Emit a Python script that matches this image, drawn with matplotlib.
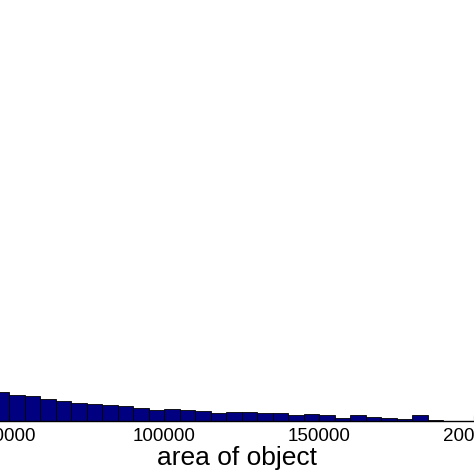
import matplotlib
matplotlib.use("Agg")
import matplotlib.pyplot as plt
import numpy as np

plt.rcParams['font.family'] = ['Liberation Sans', 'DejaVu Sans']

bin_edges_start = 45000
bin_width = 5000
counts = [287, 260, 247, 223, 200, 180, 170, 160, 147, 133, 113, 120, 107, 97, 83,
          87, 93, 80, 77, 60, 67, 57, 33, 60, 37, 27, 20, 60, 7]
lefts = [bin_edges_start + i * bin_width for i in range(len(counts))]
xticks = [50000, 100000, 150000, 200000]

fig = plt.figure(figsize=(4.74, 4.74), dpi=100)
ax = fig.add_axes([0, 53/474, 1, 1.0])
ax.bar(lefts, counts, width=bin_width, align='edge', color='#000080',
       edgecolor='black', linewidth=0.6)
ax.set_xlim(46970, 190600)
ax.set_ylim(0, 4740)
ax.set_xticks(xticks)
ax.set_xticklabels([str(t) for t in xticks], fontsize=13.5)
ax.tick_params(axis='x', direction='in', length=4, pad=5)
ax.set_yticks([])
for s in ['top', 'right', 'left']:
    ax.spines[s].set_visible(False)
ax.spines['bottom'].set_linewidth(1.0)
ax.set_xlabel('area of object', fontsize=19, labelpad=1)
fig.savefig('out.png', dpi=100)
